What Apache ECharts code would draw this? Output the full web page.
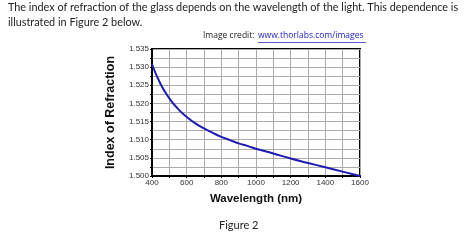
<!DOCTYPE html>
<html>
<head>
<meta charset="utf-8">
<script src="https://cdn.jsdelivr.net/npm/echarts@6/dist/echarts.min.js"></script>
<style>
  html, body { margin: 0; padding: 0; background: #fff; }
  #main { width: 474px; height: 241px; }
</style>
</head>
<body>
<div id="main"></div>
<script>
// wavelength (nm) and refractive index
var wavelength = [400, 450, 500, 550, 600, 650, 700, 750, 800, 850, 900, 950, 1000, 1100, 1200, 1300, 1400, 1500, 1600];
var refIndex = [1.5308, 1.5253, 1.5214, 1.5185, 1.5163, 1.5145, 1.5131, 1.5119, 1.5108, 1.5099, 1.5090, 1.5083, 1.5075, 1.5062, 1.5048, 1.5036, 1.5024, 1.5012, 1.5000];

var textLine1 = 'The index of refraction of the glass depends on the wavelength of the light. This dependence is';
var textLine2 = 'illustrated in Figure 2 below.';

var points = [];
for (var i = 0; i < wavelength.length; i++) {
    points.push([wavelength[i], refIndex[i]]);
}

var myChart = echarts.init(document.getElementById('main'));

var option = {
    animation: false,
    backgroundColor: '#fff',
    grid: {
        left: 152, right: 114, top: 49, bottom: 65,
        show: true,
        borderColor: '#000',
        borderWidth: 2
    },
    graphic: [
        { type: 'text', left: 8, top: 2, style: { text: textLine1, font: '10.85px Lato', fill: '#222' } },
        { type: 'text', left: 8, top: 17, style: { text: textLine2, font: '10.85px Lato', fill: '#222' } },
        { type: 'text', left: 203, top: 31, style: { text: 'Image credit: ', font: '8.5px "Open Sans"', fill: '#222' } },
        { type: 'text', left: 258, top: 31, style: { text: 'www.thorlabs.com/images', font: '8.5px "Open Sans"', fill: '#2222cc' } },
        { type: 'rect', shape: { x: 258, y: 42, width: 108, height: 0.8 }, style: { fill: '#2222cc' } },
        { type: 'text', left: 219, top: 220, style: { text: 'Figure 2', font: '11px Lato', fill: '#222' } }
    ],
    xAxis: {
        type: 'value',
        min: 400, max: 1600, interval: 100,
        name: 'Wavelength (nm)',
        nameLocation: 'middle',
        nameGap: 17,
        nameTextStyle: { fontFamily: 'Liberation Sans', fontWeight: 'bold', fontSize: 11.5, color: '#111', letterSpacing: 1.2 },
        axisLine: { lineStyle: { color: '#000', width: 2 } },
        axisTick: { length: 2, lineStyle: { color: '#000' } },
        axisLabel: {
            fontSize: 8, color: '#333', margin: 3, fontFamily: 'Liberation Sans',
            formatter: function (v) { return v % 200 === 0 ? String(v) : ''; }
        },
        splitLine: { show: true, lineStyle: { color: '#aaa', width: 1 } }
    },
    yAxis: {
        type: 'value',
        min: 1.5, max: 1.535, interval: 0.0025,
        name: 'Index of Refraction',
        nameLocation: 'middle',
        nameGap: 35,
        nameTextStyle: { fontFamily: 'Liberation Sans', fontWeight: 'bold', fontSize: 12.5, color: '#111' },
        axisLine: { show: true, lineStyle: { color: '#000', width: 2 } },
        axisTick: { length: 2, lineStyle: { color: '#000' } },
        axisLabel: {
            fontSize: 8, color: '#333', margin: 3, fontFamily: 'Liberation Sans',
            formatter: function (v) { return Math.round(v * 10000) % 50 === 0 ? v.toFixed(3) : ''; }
        },
        splitLine: { show: true, lineStyle: { color: '#aaa', width: 1 } }
    },
    series: [{
        type: 'line',
        data: points,
        smooth: true,
        showSymbol: false,
        lineStyle: { color: '#1c1cb4', width: 2 }
    }]
};
myChart.setOption(option);
</script>
</body>
</html>
